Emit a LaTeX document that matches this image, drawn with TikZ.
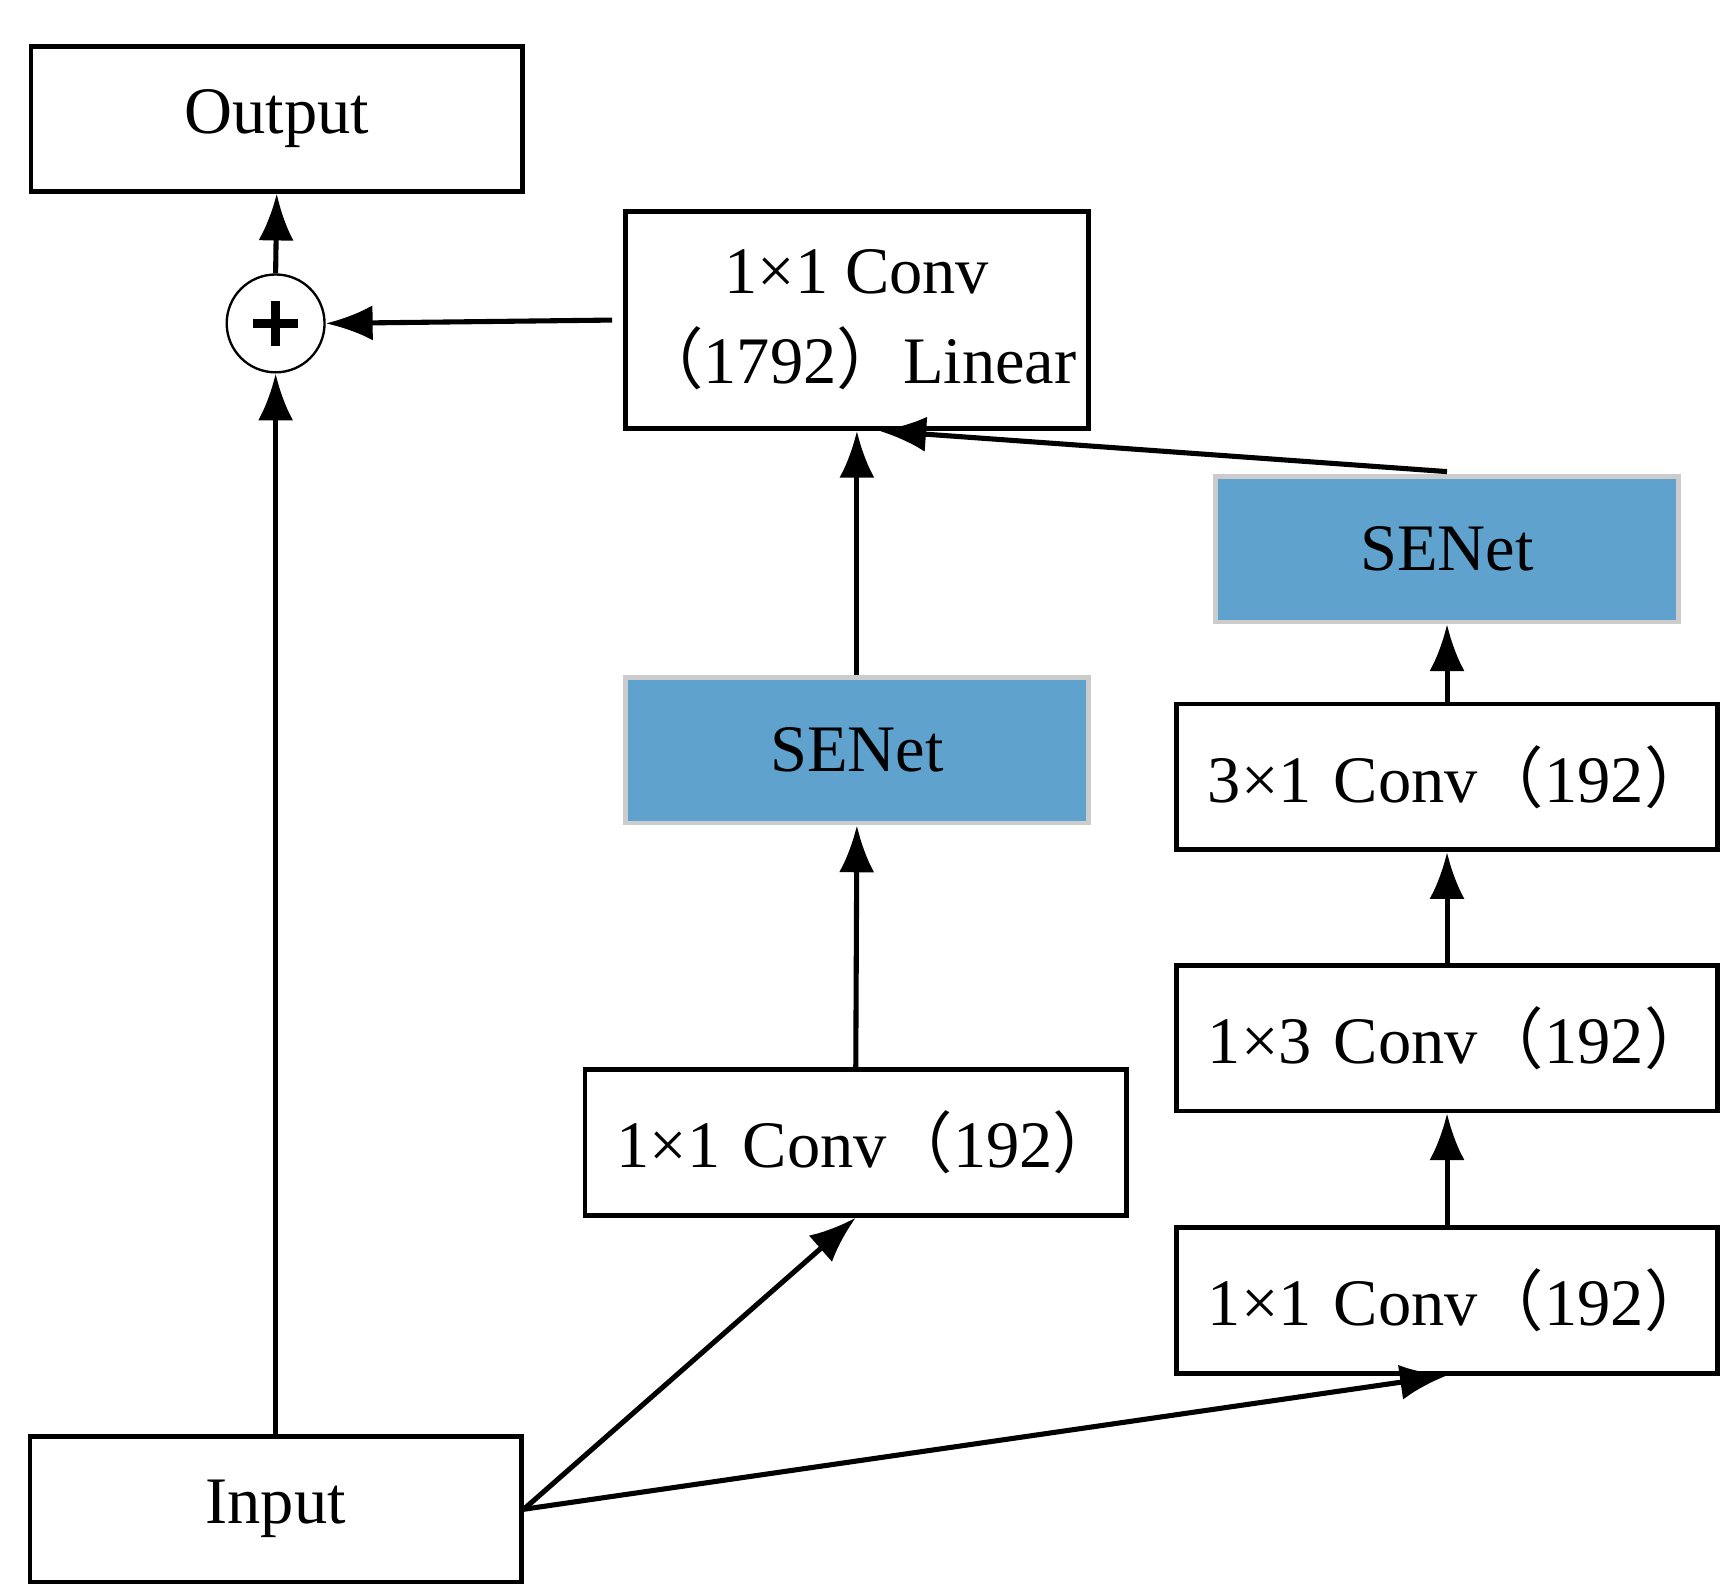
\documentclass[tikz,border=0pt]{standalone}
\usepackage{fontspec}
\setmainfont{Liberation Serif}
\newfontfamily\cjk{Noto Sans CJK SC}
\newcommand{\lpar}{{\cjk （}}
\newcommand{\rpar}{{\cjk ）}}
\usetikzlibrary{arrows.meta}
\definecolor{seblue}{HTML}{5FA2CD}
\begin{document}
\begin{tikzpicture}[x=0.01cm,y=-0.01cm,
  box/.style={draw, line width=1.2pt, font=\fontsize{17}{23}\selectfont, inner sep=0pt},
  lbox/.style={box, minimum width=4.87cm, minimum height=1.31cm, text width=4.3cm, align=left, inner xsep=0.28cm},
  se/.style={box, fill=seblue, draw=black!20},
  arr/.style={-{Latex[length=12pt,width=9pt]}, line width=1.3pt}]
\useasboundingbox (0,0) rectangle (1553,1434);
\node[box, minimum width=4.42cm, minimum height=1.30cm] (out) at (249,107) {Output};
\node[circle, draw, line width=0.6pt, minimum size=0.88cm, inner sep=0pt] (plus) at (248,291) {};
\draw[line width=2.2pt] (228,291) -- (268,291) (248,271) -- (248,311);
\node[box, minimum width=4.16cm, minimum height=1.95cm, align=center] (lin) at (771,288) {1×1 Conv\\\lpar1792\rpar Linear};
\node[se, minimum width=4.16cm, minimum height=1.31cm] (se2) at (1302,494) {SENet};
\node[se, minimum width=4.16cm, minimum height=1.31cm] (se1) at (771,675) {SENet};
\node[lbox] (c31) at (1302,699) {\mbox{3×1 Conv\lpar192\rpar}};
\node[lbox] (c13) at (1302,934) {\mbox{1×3 Conv\lpar192\rpar}};
\node[lbox] (c11r) at (1302,1170) {\mbox{1×1 Conv\lpar192\rpar}};
\node[lbox] (c11m) at (770,1028) {\mbox{1×1 Conv\lpar192\rpar}};
\node[box, minimum width=4.42cm, minimum height=1.31cm] (in) at (248,1358) {Input};
\draw[arr] (in.north) -- (plus.south);
\draw[arr] (plus.north) -- (out.south);
\draw[arr] ([xshift=-0.1cm]lin.west) -- (plus.east);
\draw[arr] (se1.north) -- (lin.south);
\draw[arr] ([yshift=0.02cm]se2.north) -- ([xshift=0.2cm]lin.south);
\draw[arr] (c11m.north) -- (se1.south);
\draw[arr] (in.east) -- (c11m.south);
\draw[arr] (in.east) -- (c11r.south);
\draw[arr] (c11r.north) -- (c13.south);
\draw[arr] (c13.north) -- (c31.south);
\draw[arr] (c31.north) -- (se2.south);
\end{tikzpicture}
\end{document}
